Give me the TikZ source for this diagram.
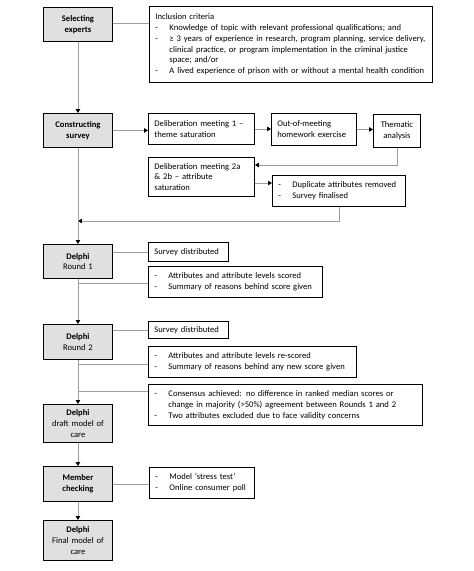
\documentclass[tikz,border=0pt]{standalone}
\usepackage{fontspec}
\setmainfont{Carlito}
\usetikzlibrary{arrows.meta}
\newcommand\li[1]{\mbox{\makebox[14pt][l]{-}#1}}
\newcommand\lc[1]{\mbox{\hspace*{14pt}#1}}
\tikzset{
  base/.style={draw=black, line width=0.9pt, anchor=north west, inner ysep=1pt,
    font=\fontsize{8.6}{10.8}\selectfont},
  graybox/.style={base, fill=black!12, align=center, inner xsep=1pt},
  txtbox/.style={base, fill=white, align=left, inner xsep=6pt},
  conn/.style={draw=black!38, line width=0.8pt},
  arr/.style={conn, -{Triangle[length=4pt,width=4.5pt,color=black]}}
}
\begin{document}
\begin{tikzpicture}[x=1pt,y=-1pt]
\useasboundingbox (0,0) rectangle (474,571);
% left column
\node[graybox, minimum width=69, minimum height=34, text width=67] (sel) at (43,7) {\textbf{Selecting}\\\textbf{experts}};
\node[graybox, minimum width=69, minimum height=34, text width=67] (cons) at (43,113) {\textbf{Constructing}\\\textbf{survey}};
\node[graybox, minimum width=69, minimum height=34, text width=67] (r1) at (43,244) {\textbf{Delphi}\\Round 1};
\node[graybox, minimum width=69, minimum height=35, text width=67] (r2) at (43,324) {\textbf{Delphi}\\Round 2};
\node[graybox, minimum width=69, minimum height=38, text width=67] (draft) at (43,404) {\textbf{Delphi}\\draft model of\\care};
\node[graybox, minimum width=69, minimum height=35, text width=67] (mem) at (43,466) {\textbf{Member}\\\textbf{checking}};
\node[graybox, minimum width=69, minimum height=40, text width=67] (fin) at (43,520) {\textbf{Delphi}\\Final model of\\care};
% right boxes
\node[txtbox, minimum width=283, minimum height=76, text width=271] (inc) at (149,6) {Inclusion criteria\\%
\li{Knowledge of topic with relevant professional qualifications; and}\\%
\li{≥ 3 years of experience in research, program planning, service delivery,}\\%
\lc{clinical practice, or program implementation in the criminal justice}\\%
\lc{space; and/or}\\%
\li{A lived experience of prison with or without a mental health condition}};
\node[txtbox, minimum width=106, minimum height=31, text width=94] (d1) at (148,113) {Deliberation meeting 1 –\\theme saturation};
\node[txtbox, minimum width=85, minimum height=32, text width=73] (out) at (271,113) {Out-of-meeting\\homework exercise};
\node[graybox, fill=white, minimum width=47, minimum height=33, text width=45] (them) at (373,114) {Thematic\\analysis};
\node[txtbox, minimum width=106, minimum height=39, text width=94] (d2) at (148,157) {Deliberation meeting 2a\\\& 2b – attribute\\saturation};
\node[txtbox, minimum width=133, minimum height=31, text width=121] (dup) at (272,175) {\li{Duplicate attributes removed}\\\li{Survey finalised}};
\node[txtbox, minimum width=80, minimum height=19, text width=68] (sd1) at (148,242) {Survey distributed};
\node[txtbox, minimum width=174, minimum height=31, text width=162] (b1) at (148,266) {\li{Attributes and attribute levels scored}\\\li{Summary of reasons behind score given}};
\node[txtbox, minimum width=80, minimum height=17, text width=68] (sd2) at (148,321) {Survey distributed};
\node[txtbox, minimum width=208, minimum height=31, text width=196] (b2) at (148,346) {\li{Attributes and attribute levels re-scored}\\\li{Summary of reasons behind any new score given}};
\node[txtbox, minimum width=274, minimum height=41, text width=262] (c3) at (148,384) {\li{Consensus achieved: no difference in ranked median scores or}\\\lc{change in majority (>50\%) agreement between Rounds 1 and 2}\\\li{Two attributes excluded due to face validity concerns}};
\node[txtbox, minimum width=105, minimum height=31, text width=93] (mb) at (149,467) {\li{Model ‘stress test’}\\\li{Online consumer poll}};
% helper coordinates
\coordinate (k0) at (0,23);
\coordinate (k1) at (0,165);
\coordinate (k2) at (0,183);
\coordinate (k3) at (0,221);
\coordinate (k4) at (0,283);
\coordinate (k5) at (0,364);
\coordinate (k6) at (0,391);
% connectors
\draw[conn] (sel.east |- k0) -- (inc.west |- k0);
\draw[arr] (sel.south) -- (cons.north);
\draw[arr] (cons.east) -- (cons.east -| d1.west);
\draw[arr] (d1.east) -- (d1.east -| out.west);
\draw[arr] (out.east) -- (out.east -| them.west);
\draw[arr] (them.south) |- (d2.east |- k1);
\draw[arr] (d2.east |- k2) -- (dup.west |- k2);
\draw[arr] (dup.south) |- (cons.south |- k3);
\draw[arr] (cons.south) -- (r1.north);
\draw[conn] (r1.east |- sd1.west) -- (sd1.west);
\draw[conn] (r1.south |- k4) -- (b1.west |- k4);
\draw[arr] (r1.south) -- (r2.north);
\draw[conn] (r2.east |- sd2.west) -- (sd2.west);
\draw[conn] (r2.south |- k5) -- (b2.west |- k5);
\draw[conn] (r2.south |- k6) -- (c3.west |- k6);
\draw[arr] (r2.south) -- (draft.north);
\draw[arr] (draft.south) -- (mem.north);
\draw[conn] (mem.east) -- (mem.east -| mb.west);
\draw[arr] (mem.south) -- (fin.north);
\end{tikzpicture}
\end{document}
